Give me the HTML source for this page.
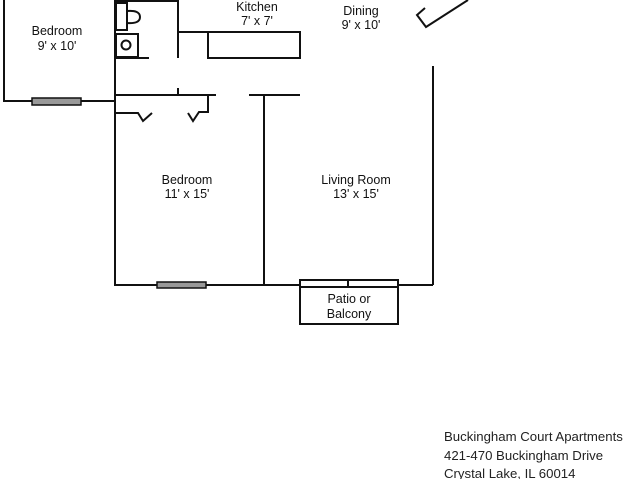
<!DOCTYPE html>
<html><head><style>
html,body{margin:0;padding:0;background:#fff;}
svg{display:block;}
text{font-family:"Liberation Sans",Arial,sans-serif;font-size:12.5px;fill:#111;}
.a{font-family:"Liberation Sans",sans-serif;font-size:13.2px;fill:#222;}
</style></head><body>
<svg width="640" height="479" viewBox="0 0 640 479" xmlns="http://www.w3.org/2000/svg">
<g fill="none" stroke="#111" stroke-width="2">
<polyline points="4,0 4,101 115,101"/>
<line x1="115" y1="0" x2="115" y2="286"/>
<line x1="115" y1="1" x2="178" y2="1"/>
<line x1="178" y1="0" x2="178" y2="58"/>
<line x1="178" y1="88" x2="178" y2="95"/>
<rect x="116" y="3" width="11" height="27"/>
<path d="M127,11 Q140,10 140,17 Q140,24 127,23"/>
<rect x="116" y="34" width="22" height="23"/>
<circle cx="126" cy="45" r="4.5"/>
<line x1="115" y1="58" x2="149" y2="58"/>
<line x1="178" y1="32" x2="208" y2="32"/>
<rect x="208" y="32" width="92" height="26"/>
<line x1="115" y1="95" x2="216" y2="95"/>
<polyline points="208,95 208,112 199,112 193,121 188,113"/>
<polyline points="116,113 138,113 143,121 152,113"/>
<line x1="249" y1="95" x2="300" y2="95"/>
<line x1="264" y1="95" x2="264" y2="285"/>
<line x1="433" y1="66" x2="433" y2="285"/>
<line x1="115" y1="285" x2="300" y2="285"/>
<line x1="398" y1="285" x2="433" y2="285"/>
<polyline points="425,8 417,15 426,27 468,0"/>
<rect x="300" y="280" width="98" height="44"/>
<line x1="300" y1="287" x2="398" y2="287"/>
<line x1="348" y1="280" x2="348" y2="287"/>
</g>
<rect x="32" y="98" width="49" height="7" fill="#999" stroke="#111" stroke-width="1.5"/>
<rect x="157" y="282" width="49" height="6" fill="#999" stroke="#111" stroke-width="1.5"/>
<text x="57" y="35" text-anchor="middle">Bedroom</text>
<text x="57" y="50" text-anchor="middle">9' x 10'</text>
<text x="257" y="11" text-anchor="middle">Kitchen</text>
<text x="257" y="25" text-anchor="middle">7' x 7'</text>
<text x="361" y="15" text-anchor="middle">Dining</text>
<text x="361" y="29" text-anchor="middle">9' x 10'</text>
<text x="187" y="184" text-anchor="middle">Bedroom</text>
<text x="187" y="198" text-anchor="middle">11' x 15'</text>
<text x="356" y="184" text-anchor="middle">Living Room</text>
<text x="356" y="198" text-anchor="middle">13' x 15'</text>
<text x="349" y="303" text-anchor="middle">Patio or</text>
<text x="349" y="318" text-anchor="middle">Balcony</text>
<text class="a" x="444" y="441">Buckingham Court Apartments</text>
<text class="a" x="444" y="460">421-470 Buckingham Drive</text>
<text class="a" x="444" y="478">Crystal Lake, IL 60014</text>
</svg>
</body></html>
